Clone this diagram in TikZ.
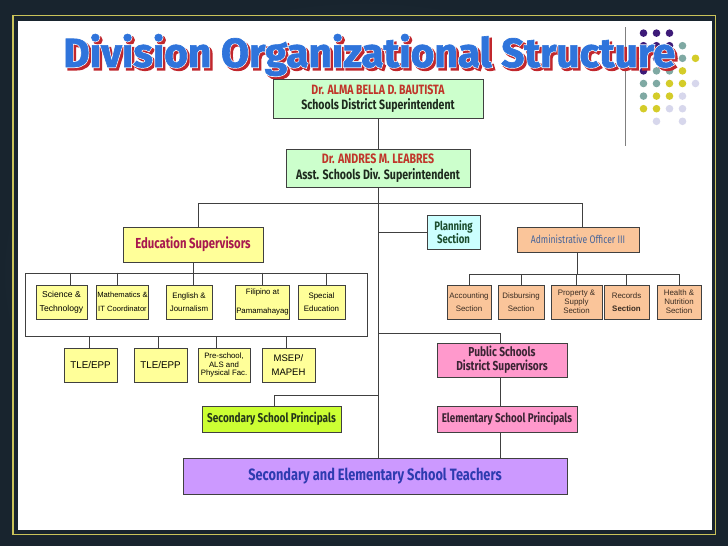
\documentclass[tikz,border=0pt]{standalone}
\usepackage{fontspec}
\setmainfont{Liberation Sans}
\newfontfamily\agency[FakeStretch=0.78]{Fira Sans}
\newfontfamily\arialn{Liberation Sans}
\newfontfamily\ttlfont[FakeBold=1.6]{Fira Sans}
\newfontfamily\ttlfontO[FakeBold=5]{Fira Sans}
\usetikzlibrary{calc}
\definecolor{bgdark}{HTML}{18242E}
\definecolor{bgmid}{HTML}{3C4C58}
\definecolor{bordery}{HTML}{C9C35A}
\definecolor{tblue}{HTML}{2F74DB}
\definecolor{tred}{HTML}{C1272D}
\definecolor{lineg}{HTML}{404040}
\definecolor{cgreen}{HTML}{CCFFCC}
\definecolor{cyellow}{HTML}{FFFF99}
\definecolor{ccyan}{HTML}{CCFFFF}
\definecolor{cpeach}{HTML}{FAC59A}
\definecolor{cpink}{HTML}{FF99CC}
\definecolor{clime}{HTML}{CCFF33}
\definecolor{clav}{HTML}{CC99FF}
\definecolor{tname}{HTML}{C0362A}
\definecolor{tdark}{HTML}{1E2A1E}
\definecolor{tes}{HTML}{A8184E}
\definecolor{tgreen}{HTML}{1B4D2E}
\definecolor{tadmin}{HTML}{45649A}
\definecolor{tbrown}{HTML}{3A2C22}
\definecolor{tpinkd}{HTML}{3A2433}
\definecolor{tlimed}{HTML}{24361A}
\definecolor{tteach}{HTML}{2E3BB0}
\definecolor{dpur}{HTML}{3D1A78}
\definecolor{dteal}{HTML}{7FA9A3}
\definecolor{dyel}{HTML}{D4CC29}
\definecolor{dlav}{HTML}{D7D7EC}
\newcommand\ttlbox[1]{\resizebox{612pt}{33pt}{#1\bfseries Division Organizational Structure}}
\begin{document}
\begin{tikzpicture}[x=1pt,y=-1pt,
  ln/.style={draw=lineg, line width=0.9pt},
  bx/.style={draw=lineg, line width=0.9pt, inner sep=1pt, align=center},
  ag/.style={font=\agency\bfseries\fontsize{#1}{#1}\selectfont},
  ar/.style={font=\arialn\fontsize{#1}{#1}\selectfont}]
\useasboundingbox (0,0) rectangle (728,546);
\shade[inner color=bgmid, outer color=bgdark] (0,0) rectangle (728,546);
\draw[bordery, line width=1.6pt] (13,15.5) rectangle (715.5,534.5);
\fill[white] (18,21) rectangle (712,530);
% template decoration
\draw[gray, line width=0.8pt] (625.5,27) -- (625.5,146);
\foreach \c/\r/\col in {1/1/dpur,2/1/dpur,3/1/dpur,
  1/2/dpur,2/2/dpur,3/2/dpur,4/2/dteal,
  1/3/dpur,2/3/dpur,3/3/dteal,4/3/dteal,5/3/dyel,
  1/4/dpur,2/4/dteal,3/4/dteal,4/4/dyel,
  1/5/dteal,2/5/dteal,3/5/dyel,4/5/dyel,5/5/dlav,
  1/6/dteal,2/6/dyel,3/6/dyel,4/6/dlav,
  1/7/dyel,2/7/dyel,3/7/dlav,4/7/dlav,
  2/8/dlav,4/8/dlav}
  \fill[\col] ({630.5+13*\c},{20.5+12.6*\r}) circle[radius=3.8];
% title
\node[anchor=base west, inner sep=0pt, text=tred] (tshadow) at (65.5,69.5) {\ttlbox{\ttlfontO}};
\node[anchor=base west, inner sep=0pt, text=white] (toutline) at (63,67) {\ttlbox{\ttlfontO}};
\node[anchor=base west, inner sep=0pt, text=tblue] (title) at (63,67) {\ttlbox{\ttlfont}};
% main boxes
\node[bx, fill=cgreen, minimum width=210pt, minimum height=39pt, ag=13.5, text=tdark] (sup) at (378,98.5)
  {\textcolor{tname}{Dr. ALMA BELLA D. BAUTISTA}\\[1pt]Schools District Superintendent};
\node[bx, fill=cgreen, minimum width=184pt, minimum height=38pt, ag=13.6, text=tdark] (asst) at (378,168)
  {\textcolor{tname}{Dr. ANDRES M. LEABRES}\\[2pt]Asst. Schools Div. Superintendent};
\node[bx, fill=cyellow, minimum width=140pt, minimum height=35pt, ag=14.5, text=tes] (es) at (193,244.5) {Education Supervisors};
\node[bx, fill=ccyan, minimum width=53pt, minimum height=34pt, ag=12.3, text=tgreen] (plan) at (453.5,232) {Planning\\[0pt]Section};
\node[bx, fill=cpeach, minimum width=122pt, minimum height=25pt, font=\agency\fontsize{11}{11}\selectfont, text=tadmin] (admin) at (578,239.5) {Administrative Officer III};
% admin children
\node[bx, fill=cpeach, minimum width=44pt, minimum height=34pt, ar=7.9, text=tbrown] (acc) at (469,302) {Accounting\\[5pt]Section};
\node[bx, fill=cpeach, minimum width=46pt, minimum height=34pt, ar=7.9, text=tbrown] (disb) at (521,302) {Disbursing\\[5pt]Section};
\node[bx, fill=cpeach, minimum width=51pt, minimum height=34pt, ar=7.9, text=tbrown] (prop) at (576.5,302) {Property \&\\[1pt]Supply\\[1pt]Section};
\node[bx, fill=cpeach, minimum width=45pt, minimum height=34pt, ar=7.9, text=tbrown] (rec) at (626.5,302) {Records\\[5pt]\textbf{Section}};
\node[bx, fill=cpeach, minimum width=44pt, minimum height=34pt, ar=7.9, text=tbrown] (hn) at (679,302) {Health \&\\[1pt]Nutrition\\[1pt]Section};
% education supervisors group
\node[draw=lineg, line width=0.9pt, minimum width=342pt, minimum height=63pt, inner sep=0pt] (grp) at (196,304.5) {};
\node[bx, fill=cyellow, minimum width=51pt, minimum height=34pt, ar=8.6, text=black] (sci) at (61.5,302) {Science \&\\[5pt]Technology};
\node[bx, fill=cyellow, minimum width=51pt, minimum height=34pt, ar=7.6, text=black] (math) at (122.5,302) {Mathematics \&\\[6pt]IT Coordinator};
\node[bx, fill=cyellow, minimum width=46pt, minimum height=34pt, ar=7.9, text=black] (eng) at (189,302) {English \&\\[5pt]Journalism};
\node[bx, fill=cyellow, minimum width=53pt, minimum height=34pt, ar=7.8, text=black] (fil) at (262.5,302) {Filipino at\\[11pt]Pamamahayag};
\node[bx, fill=cyellow, minimum width=47pt, minimum height=34pt, ar=7.9, text=black] (sped) at (321.5,302) {Special\\[5pt]Education};
\node[bx, fill=cyellow, minimum width=53pt, minimum height=34pt, ar=9.8, text=black] (tle1) at (90.5,365) {TLE/EPP};
\node[bx, fill=cyellow, minimum width=53pt, minimum height=34pt, ar=9.8, text=black] (tle2) at (160.5,365) {TLE/EPP};
\node[bx, fill=cyellow, minimum width=52pt, minimum height=34pt, ar=7.8, text=black] (pre) at (224,365) {Pre-school,\\[0.5pt]ALS and\\[0.5pt]Physical Fac.};
\node[bx, fill=cyellow, minimum width=53pt, minimum height=34pt, ar=9.5, text=black] (msep) at (288.5,365) {MSEP/\\[5pt]MAPEH};
% lower boxes
\node[bx, fill=cpink, minimum width=130pt, minimum height=34pt, ag=13, text=tpinkd] (psds) at (502,360) {Public Schools\\[1pt]District Supervisors};
\node[bx, fill=cpink, minimum width=140pt, minimum height=26pt, ag=12.6, text=tpinkd] (esp) at (507,419) {Elementary School Principals};
\node[bx, fill=clime, minimum width=139pt, minimum height=26pt, ag=12.8, text=tlimed] (ssp) at (271.5,419) {Secondary School Principals};
\node[bx, fill=clav, minimum width=384pt, minimum height=36pt, ag=16.4, text=tteach] (teach) at (375,476) {Secondary and Elementary School Teachers};
% junction coordinates
\coordinate (esin) at (198,203);
\coordinate (adin) at (582,203);
\coordinate (ab) at (577,274);
\coordinate (pj) at (500,333);
\coordinate (sj) at (274,395);
\coordinate (g1) at (70,0);
\coordinate (g2) at (117,0);
\coordinate (g3) at (193,0);
\coordinate (g4) at (262,0);
\coordinate (g5) at (326.5,0);
\coordinate (h1) at (89,0);
\coordinate (h2) at (158,0);
\coordinate (h3) at (216,0);
\coordinate (h4) at (286,0);
% connectors
\draw[ln] (sup) -- (asst);
\draw[ln] (asst.south) -- (asst.south |- teach.north);
\draw[ln] (es.north -| esin) -- (esin) -- (adin) -- (adin |- admin.north);
\draw[ln] (plan.west -| asst.south) -- (plan.west);
\draw[ln] (admin.south -| ab) -- (ab);
\draw[ln] (ab -| acc) -- (ab -| hn);
\foreach \n in {acc,disb,prop,rec,hn} \draw[ln] (ab -| \n) -- (\n.north);
\draw[ln] (es.south) -- (es.south |- grp.north);
\draw[ln] (grp.north -| g1) -- (sci.north -| g1);
\draw[ln] (grp.north -| g2) -- (math.north -| g2);
\draw[ln] (grp.north -| g3) -- (eng.north -| g3);
\draw[ln] (grp.north -| g4) -- (fil.north -| g4);
\draw[ln] (grp.north -| g5) -- (sped.north -| g5);
\draw[ln] (grp.south -| h1) -- (tle1.north -| h1);
\draw[ln] (grp.south -| h2) -- (tle2.north -| h2);
\draw[ln] (grp.south -| h3) -- (pre.north -| h3);
\draw[ln] (grp.south -| h4) -- (msep.north -| h4);
\draw[ln] (pj -| asst.south) -- (pj) -- (pj |- psds.north);
\draw[ln] (psds.south -| pj) -- (esp.north -| pj);
\draw[ln] (esp.south -| pj) -- (teach.north -| pj);
\draw[ln] (sj -| asst.south) -- (sj) -- (sj |- ssp.north);
\end{tikzpicture}
\end{document}
